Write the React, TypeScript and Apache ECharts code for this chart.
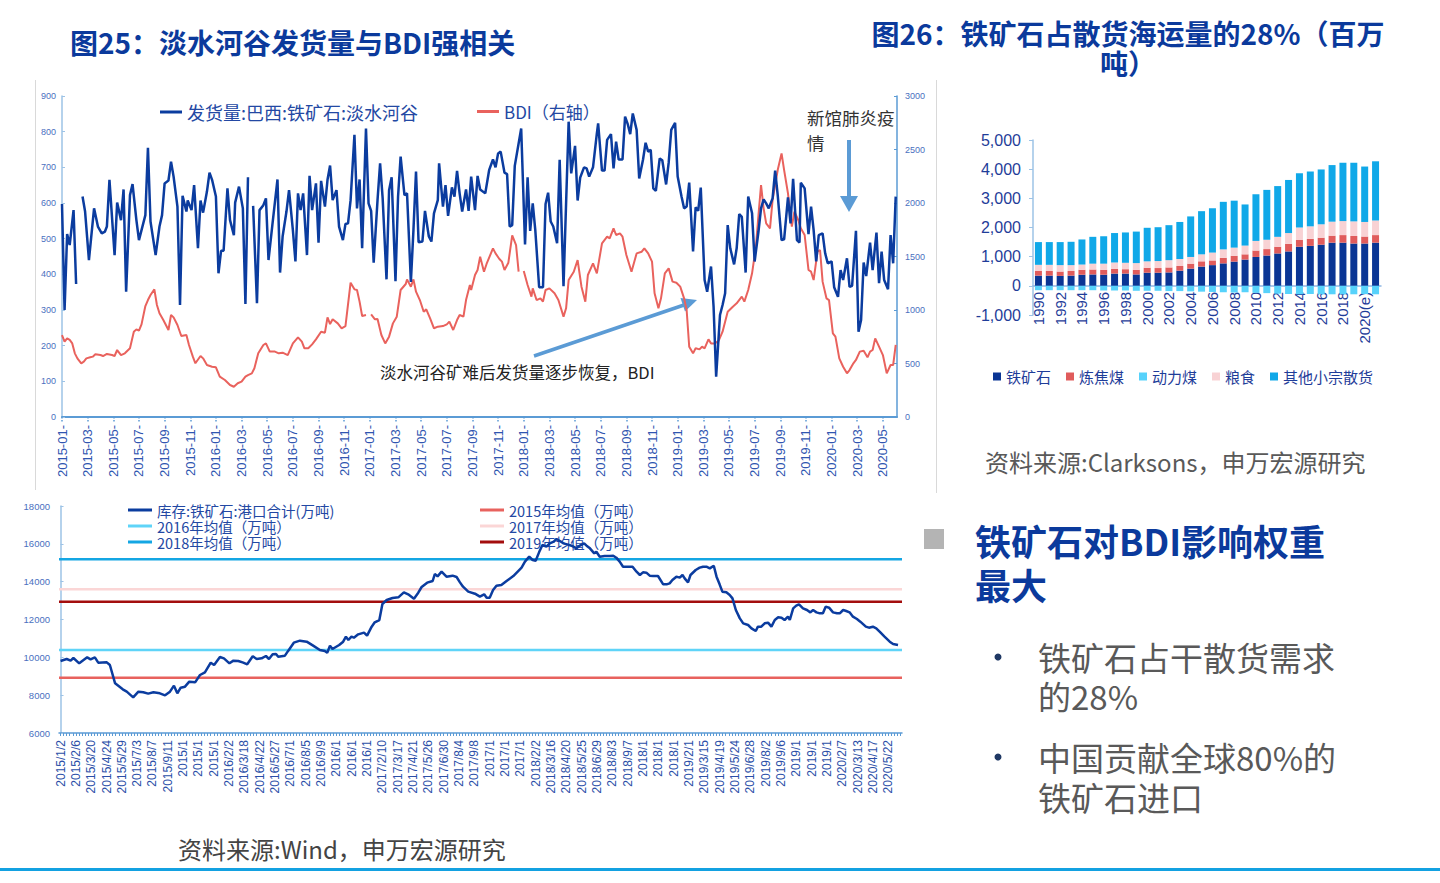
import { useEffect, useRef } from 'react';
import * as echarts from 'echarts';

const CJK = '"Noto Sans CJK SC", "Noto Sans", sans-serif';
const NUM = '"Liberation Sans", Arial, "Noto Sans CJK SC", sans-serif';

// ---------- 图25 top: Vale shipments (left axis) & BDI (right axis) ----------
// x = months since Jan 2015; null breaks the line
const shipments: [number, number | null][] = [
  [0.0, 597], [0.2, 300], [0.4, 513], [0.6, 482], [0.9, 580], [1.1, 373], [1.3, null],
  [1.6, 618], [1.8, 576], [2.1, 440], [2.5, 585], [2.8, 534], [3.1, 515], [3.35, 520], [3.5, 534], [3.7, 665],
  [4.1, 454], [4.3, 601], [4.6, 552], [4.8, 638], [5.0, 351], [5.3, 622], [5.5, 653], [5.8, 552], [6.0, 496],
  [6.5, 566], [6.7, 755], [6.9, 548], [7.3, 454], [7.6, 534], [7.8, 566], [8.0, 655], [8.3, 663], [8.5, 716],
  [8.7, 674], [9.0, 590], [9.2, 314], [9.4, 620], [9.7, 576], [9.8, 607], [10.1, 580], [10.3, 650], [10.6, 473],
  [10.8, 607], [11.0, 573], [11.3, 632], [11.5, 685], [11.7, 665], [12.0, 618], [12.2, 403], [12.4, 466],
  [12.6, 466], [12.9, 641], [13.1, 552], [13.4, 510], [13.5, 601], [13.8, 646], [14.1, 585], [14.3, 317],
  [14.5, 672], [14.7, null],
  [14.9, 592], [15.2, 319], [15.4, 580], [15.7, 594], [15.9, 613], [16.1, 440], [16.4, 538], [16.8, 666],
  [17.0, 405], [17.2, 506], [17.5, 576], [17.7, 636], [18.0, 524], [18.2, 436], [18.4, 627], [18.6, 580],
  [18.8, 627], [19.1, 454], [19.3, 676], [19.5, 580], [19.8, 655], [20.0, 489], [20.2, 662], [20.5, 590],
  [20.7, 665], [20.9, 705], [21.1, 608], [21.4, 636], [21.6, 534], [21.9, 496], [22.1, 541], [22.3, 543],
  [22.5, 608], [22.8, 791], [23.0, 585], [23.2, 666], [23.4, 473], [23.7, 809], [23.9, 599], [24.1, 578],
  [24.3, 433], [24.6, 608], [24.8, 711], [25.0, 613], [25.3, 386], [25.5, 636], [25.7, 672], [26.0, 381],
  [26.2, 618], [26.4, 730], [26.7, 622], [26.9, 627], [27.2, 379], [27.4, 524], [27.6, 688], [27.8, 490],
  [28.1, 492], [28.3, 578], [28.6, 506], [28.8, 492], [29.0, 571], [29.3, 608], [29.4, 711], [29.7, 590],
  [29.9, 650], [30.1, 564], [30.4, 644], [30.6, 618], [30.8, 690], [31.0, 627], [31.2, 576], [31.5, 638],
  [31.7, 578], [31.9, 674], [32.2, 580], [32.4, 676], [32.6, 638], [33.0, 627], [33.3, 692], [33.6, 722],
  [33.8, 700], [34.0, 739], [34.2, 744], [34.5, 685], [34.7, 681], [34.9, 534], [35.1, 538], [35.3, 704],
  [35.8, 809], [36.1, 484], [36.3, 672], [36.5, 522], [36.7, 599], [36.9, 524], [37.2, 364], [37.5, 364],
  [37.7, 597], [37.9, 629], [38.1, 548], [38.3, 534], [38.6, 487], [38.8, 721], [39.1, 367], [39.5, 828],
  [39.7, 683], [40.0, 760], [40.2, 607], [40.4, 671], [40.7, 700], [40.9, 697], [41.1, 674], [41.4, 700],
  [41.7, 795], [41.8, 823], [42.1, 691], [42.3, 691], [42.5, 777], [42.8, 793], [43.0, 697], [43.2, 772],
  [43.4, 722], [43.7, 722], [43.9, 842], [44.1, 822], [44.3, 793], [44.5, 851], [44.8, 805], [45.0, 669],
  [45.3, 722], [45.5, 769], [45.7, 744], [45.9, 749], [46.1, 641], [46.3, 634], [46.6, 725], [46.8, 720],
  [47.1, 652], [47.3, 713], [47.5, 805], [47.8, 825], [48.0, 674], [48.3, 618], [48.5, 585], [48.7, 590],
  [48.9, 657], [49.2, 464], [49.4, 588], [49.6, 578], [49.8, 643], [50.1, 384], [50.3, 351], [50.6, 422],
  [50.8, 309], [51.0, 113], [51.3, 286], [51.5, 314], [51.7, 347], [51.9, 538], [52.1, 473], [52.4, 428],
  [52.6, 473], [52.8, 569], [53.0, 561], [53.3, 405], [53.5, 618], [53.8, 571], [54.0, 436], [54.3, 520],
  [54.5, 585], [54.7, 610], [54.9, 599], [55.1, 585], [55.4, 613], [55.6, 691], [55.8, 622], [56.1, 496],
  [56.3, 498], [56.6, 616], [56.8, 543], [57.0, 668], [57.3, 496], [57.5, 489], [57.6, 657], [57.9, 641],
  [58.2, 513], [58.4, 590], [58.6, 524], [58.8, 436], [59.0, 510], [59.3, 515], [59.5, 459], [59.7, 431],
  [60.0, 436], [60.2, 364], [60.5, 337], [60.7, 412], [60.9, 384], [61.2, 445], [61.4, 365], [61.6, 368],
  [61.9, 522], [62.1, 239], [62.3, 272], [62.5, 433], [62.7, 395], [63.0, 489], [63.2, 412], [63.5, 517],
  [63.7, 375], [63.9, 464], [64.1, 384], [64.4, 358], [64.6, 510], [64.8, 431], [65.0, 618],
];

const bdi: [number, number | null][] = [
  [0.0, 766], [0.2, 704], [0.4, 735], [0.6, 720], [0.8, 688], [1.0, 595], [1.2, 548], [1.5, 502], [1.7, 517],
  [1.9, 548], [2.2, 558], [2.4, 564], [2.6, 586], [3.0, 579], [3.2, 570], [3.5, 589], [3.9, 579], [4.1, 570],
  [4.3, 626], [4.6, 579], [4.9, 595], [5.3, 642], [5.6, 797], [5.8, 819], [6.0, 807], [6.2, 866], [6.5, 1037],
  [6.7, 1093], [6.9, 1140], [7.2, 1193], [7.4, 1047], [7.6, 969], [7.9, 906], [8.3, 813], [8.5, 953], [8.7, 931],
  [9.0, 860], [9.3, 757], [9.7, 766], [9.9, 673], [10.2, 564], [10.4, 502], [10.8, 570], [11.0, 548], [11.3, 486],
  [11.7, 470], [12.0, 464], [12.3, 377], [12.7, 346], [13.1, 299], [13.4, 283], [13.7, 315], [14.0, 330],
  [14.3, 377], [14.5, 392], [14.8, 408], [15.0, 455], [15.3, 595], [15.7, 673], [15.9, 688], [16.2, 611],
  [16.6, 611], [16.9, 595], [17.2, 601], [17.6, 579], [18.0, 688], [18.4, 744], [18.7, 704], [18.9, 642],
  [19.2, 642], [19.5, 679], [19.8, 726], [20.2, 797], [20.5, 788], [20.7, 931], [20.9, 869], [21.1, 913],
  [21.5, 875], [21.8, 829], [22.1, 850], [22.5, 1255], [22.8, 1193], [23.0, 1187], [23.2, 1078], [23.4, 944],
  [23.7, 953], [23.9, null],
  [24.1, 959], [24.4, 913], [24.6, 916], [24.9, 766], [25.2, 688], [25.5, 751], [25.8, 875], [26.1, 938],
  [26.4, 1187], [26.8, 1243], [26.9, 1286], [27.2, 1218], [27.4, 1286], [27.6, 1171], [27.9, 1093], [28.2, 984],
  [28.4, 1006], [28.7, 922], [29.0, 829], [29.3, 844], [29.7, 850], [30.0, 866], [30.2, 891], [30.5, 813],
  [30.8, 906], [31.0, 953], [31.3, 938], [31.5, 1093], [31.8, 1234], [31.9, 1187], [32.2, 1327], [32.4, 1374],
  [32.6, 1498], [32.9, 1358], [33.1, 1430], [33.6, 1576], [33.8, 1529], [34.1, 1477], [34.3, 1452], [34.5, 1374],
  [34.8, 1442], [35.1, 1698], [35.4, 1607], [35.6, 1358], [35.8, null],
  [36.0, 1364], [36.3, 1234], [36.6, 1125], [36.7, 1202], [37.0, 1093], [37.3, 1109], [37.5, 1078], [37.7, 1187],
  [38.0, 1202], [38.4, 1156], [38.7, 1093], [38.9, 1016], [39.1, 938], [39.3, 1016], [39.5, 1280], [39.9, 1358],
  [40.2, 1467], [40.5, 1218], [40.8, 1078], [41.0, 1327], [41.4, 1436], [41.7, 1343], [42.1, 1623], [42.5, 1685],
  [42.7, 1669], [43.0, 1763], [43.2, 1701], [43.5, 1716], [43.7, 1685], [44.0, 1514], [44.4, 1358], [44.8, 1529],
  [45.2, 1545], [45.4, 1576], [45.7, 1529], [46.0, 1452], [46.2, 1156], [46.5, 1016], [46.7, 1109], [47.0, 1343],
  [47.3, 1389], [47.6, 1265], [47.9, 1255], [48.2, 1218], [48.5, 1109], [48.7, 1000], [48.9, 657], [49.2, 595],
  [49.4, 642], [49.7, 632], [49.9, 657], [50.1, 642], [50.4, 726], [50.6, 688], [50.9, 688], [51.2, 713],
  [51.5, 797], [51.9, 984], [52.3, 1031], [52.6, 1062], [53.0, 1125], [53.2, 1078], [53.5, 1187], [53.8, 1343],
  [54.1, 1592], [54.3, 1888], [54.5, 2168], [54.7, 1950], [54.9, 1810], [55.2, 1763], [55.4, 2028], [55.8, 2308],
  [56.1, 2464], [56.3, 2308], [56.6, 2090], [56.9, 1779], [57.1, 1919], [57.4, 1841], [57.6, 1763], [57.9, 1701],
  [58.2, 1374], [58.4, 1358], [58.6, 1280], [58.9, 1545], [59.1, 1561], [59.3, 1265], [59.6, 1109], [59.8, 1093],
  [60.1, 782], [60.3, 751], [60.6, 548], [60.9, 470], [61.2, 408], [61.4, 439], [61.7, 502], [61.9, 533],
  [62.2, 611], [62.5, 620], [62.8, 558], [63.0, 611], [63.2, 626], [63.4, 735], [63.7, 657], [64.0, 579],
  [64.3, 408], [64.6, 486], [64.8, 486], [65.0, 673],
];

const shipmentMonthLabels = [
  '2015-01-', '2015-03-', '2015-05-', '2015-07-', '2015-09-', '2015-11-',
  '2016-01-', '2016-03-', '2016-05-', '2016-07-', '2016-09-', '2016-11-',
  '2017-01-', '2017-03-', '2017-05-', '2017-07-', '2017-09-', '2017-11-',
  '2018-01-', '2018-03-', '2018-05-', '2018-07-', '2018-09-', '2018-11-',
  '2019-01-', '2019-03-', '2019-05-', '2019-07-', '2019-09-', '2019-11-',
  '2020-01-', '2020-03-', '2020-05-',
];

// ---------- 图25 bottom: port iron-ore inventory (万吨), x = week index ----------
const portStock: [number, number][] = [
  [0, 9806], [2.0, 9912], [3.3, 9824], [4.2, 9965], [6.1, 9683], [8.7, 10000], [9.8, 9894], [11.2, 10000],
  [12.3, 9718], [15.1, 9735], [16.1, 9594], [17.8, 8625], [20.3, 8308], [21.6, 8185], [23.7, 7885], [25.4, 8185],
  [27.0, 8150], [28.6, 8080], [30.3, 8150], [32.4, 8097], [34.1, 7990], [35.7, 8185], [37.0, 8502], [38.1, 8097],
  [39.2, 8396], [40.6, 8449], [42.0, 8714], [43.9, 8678], [45.5, 9066], [47.1, 9207], [49.0, 9718], [50.1, 9594],
  [52.0, 10017], [53.3, 9947], [55.1, 9683], [56.4, 9824], [58.0, 9806], [59.6, 9718], [60.9, 9630], [62.7, 10053],
  [64.0, 9912], [65.6, 9947], [67.0, 10070], [68.0, 9912], [69.2, 10158], [70.3, 10176], [71.0, 10035],
  [73.2, 10088], [74.3, 10352], [76.1, 10775], [78.1, 10881], [80.3, 10828], [82.4, 10617], [84.6, 10387],
  [86.2, 10335], [87.0, 10246], [87.9, 10617], [88.7, 10440], [90.9, 10652], [92.2, 10828], [93.1, 11092],
  [93.9, 10916], [94.9, 11092], [95.7, 11039], [97.1, 11216], [99.0, 11304], [100.0, 11145], [101.5, 11621],
  [102.5, 11850], [104.0, 11973], [105.0, 12819], [106.4, 13030], [108.3, 13136], [110.2, 13171], [112.0, 13436],
  [113.4, 13330], [115.3, 13101], [116.7, 13418], [117.8, 13718], [119.6, 13947], [121.4, 14035], [122.1, 14405],
  [123.0, 14281], [124.3, 14528], [125.9, 14264], [127.9, 14317], [129.2, 14246], [130.3, 13964], [131.3, 13735],
  [133.0, 13471], [135.2, 13365], [136.8, 13207], [138.2, 13330], [139.0, 13154], [140.0, 13154], [141.1, 13559],
  [142.2, 13788], [143.8, 13823], [145.5, 14035], [147.7, 14299], [149.3, 14563], [150.4, 14740], [151.5, 15057],
  [152.9, 15321], [154.0, 15145], [155.0, 15110], [156.1, 15550], [157.2, 15938], [158.5, 15850], [159.6, 16026],
  [160.9, 16114], [161.8, 16255], [162.9, 16149], [164.0, 16026], [165.3, 15973], [166.7, 15902], [168.3, 15761],
  [169.7, 15938], [170.8, 16026], [171.6, 15902], [172.7, 15761], [174.1, 15497], [174.8, 15585], [175.9, 15321],
  [177.5, 15356], [179.2, 15356], [180.3, 15374], [181.3, 15268], [182.4, 15057], [183.5, 14792], [185.2, 14792],
  [186.6, 14792], [187.9, 14528], [189.0, 14352], [190.0, 14493], [191.1, 14475], [192.2, 14317], [193.3, 14299],
  [194.9, 14299], [196.6, 13859], [197.7, 13859], [198.7, 13911], [199.6, 14088], [200.9, 14264], [202.0, 14211],
  [202.9, 14352], [203.6, 14176], [204.7, 13964], [205.5, 14352], [207.2, 14616], [208.5, 14740], [209.6, 14792],
  [210.7, 14792], [211.8, 14704], [213.1, 14845], [214.0, 14264], [215.0, 13859], [215.9, 13471], [217.2, 13436],
  [218.3, 13295], [219.2, 13118], [220.3, 12502], [221.6, 12061], [222.7, 11797], [224.3, 11709], [225.4, 11533],
  [226.8, 11392], [227.5, 11621], [228.6, 11621], [229.7, 11797], [230.8, 11832], [231.9, 11621], [233.0, 11973],
  [234.1, 12114], [235.2, 12097], [236.2, 11973], [237.3, 12149], [237.9, 11973], [239.0, 12590], [240.0, 12731],
  [240.9, 12801], [242.2, 12590], [243.5, 12502], [244.6, 12378], [245.5, 12502], [246.6, 12378], [247.7, 12326],
  [248.7, 12326], [249.6, 12678], [250.7, 12625], [252.0, 12378], [253.3, 12326], [254.2, 12326], [255.3, 12502],
  [256.3, 12449], [257.4, 12378], [258.5, 12149], [259.8, 12026], [260.9, 11885], [262.7, 11621], [263.7, 11568],
  [265.0, 11621], [266.1, 11533], [267.2, 11356], [268.8, 11092], [270.5, 10828], [271.6, 10705], [273.2, 10652],
];

const yearAverageNames = ['2015年均值（万吨）', '2016年均值（万吨）', '2017年均值（万吨）', '2018年均值（万吨）', '2019年均值（万吨）'];
const yearAverageValues = [8920, 10390, 13600, 15180, 12940];
const yearAverageColors = ['#e8625e', '#5fd4f8', '#fbd6d6', '#14a6e3', '#a30d0d'];

const stockWeekLabels = [
  '2015/1/2', '2015/2/6', '2015/3/20', '2015/4/24', '2015/5/29', '2015/7/3', '2015/8/7', '2015/9/11', '2015/1', '2015/1', '2015/1',
  '2016/2/2', '2016/3/18', '2016/4/22', '2016/5/27', '2016/7/1', '2016/8/5', '2016/9/9', '2016/1', '2016/1', '2016/1',
  '2017/2/10', '2017/3/17', '2017/4/21', '2017/5/26', '2017/6/30', '2017/8/4', '2017/9/8', '2017/1', '2017/1', '2017/1',
  '2018/2/2', '2018/3/16', '2018/4/20', '2018/5/25', '2018/6/29', '2018/8/3', '2018/9/7', '2018/1', '2018/1', '2018/1',
  '2019/2/1', '2019/3/15', '2019/4/19', '2019/5/24', '2019/6/28', '2019/8/2', '2019/9/6', '2019/1', '2019/1', '2019/1',
  '2020/2/7', '2020/3/13', '2020/4/17', '2020/5/22',
];

// ---------- 图26: seaborne dry bulk trade by cargo (百万吨) ----------
const bulkYears = [
  '1990', '1991', '1992', '1993', '1994', '1995', '1996', '1997', '1998', '1999',
  '2000', '2001', '2002', '2003', '2004', '2005', '2006', '2007', '2008', '2009',
  '2010', '2011', '2012', '2013', '2014', '2015', '2016', '2017', '2018', '2019', '2020(e)', '2021(e)',
];
const ironOre = [350, 350, 340, 350, 380, 390, 380, 420, 420, 390, 450, 450, 460, 520, 590, 660, 710, 770, 830, 900, 990, 1040, 1110, 1180, 1340, 1370, 1410, 1480, 1480, 1450, 1450, 1480];
const cokingCoal = [160, 160, 150, 160, 170, 170, 170, 160, 150, 160, 170, 160, 170, 160, 170, 180, 160, 190, 200, 180, 220, 220, 230, 260, 240, 240, 240, 240, 260, 260, 240, 260];
const thermalCoal = [-150, -150, -150, -150, -150, -150, -160, -160, -160, -170, -170, -170, -180, -180, -190, -200, -210, -220, -230, -220, -240, -250, -270, -280, -290, -280, -290, -290, -290, -290, -280, -290];
const grain = [210, 210, 220, 200, 180, 200, 210, 220, 220, 230, 220, 240, 250, 240, 230, 240, 270, 290, 280, 300, 330, 320, 340, 370, 420, 430, 460, 480, 480, 500, 500, 500];
const minorBulks = [780, 780, 790, 800, 860, 920, 940, 1010, 1040, 1080, 1150, 1160, 1200, 1270, 1390, 1480, 1520, 1630, 1610, 1410, 1600, 1710, 1740, 1820, 1860, 1880, 1880, 1940, 2000, 2010, 1900, 2030];
const bulkNames = ['铁矿石', '炼焦煤', '动力煤', '粮食', '其他小宗散货'];
const bulkColors = ['#0a3594', '#e05c5c', '#57d2fb', '#f8d2d4', '#10a8e8'];

const WEEK_MIN = -0.5;
const WEEK_MAX = 274.5;

const BULK_MIN = -1000;
const BULK_MAX = 5000;
const BULK_GRID_HEIGHT = 175;

const withGaps = (d: [number, number | null][]) => d.map(([x, y]) => [x, y === null ? '-' : y]);
const plain = (v: number) => String(v);

const axisBlue = '#5b9bd5';
const tickText = '#4a6fc0';
const legendText = '#2348a3';

function buildOption(): any {
  const bulkSeries = [ironOre, cokingCoal, thermalCoal, grain, minorBulks].map((vals, i) => ({
    name: bulkNames[i],
    type: 'bar',
    xAxisIndex: 2,
    yAxisIndex: 3,
    stack: 'bulk',
    barWidth: 7,
    color: bulkColors[i],
    itemStyle: { color: bulkColors[i] },
    data: vals,
  }));

  const averageSeries = yearAverageNames.map((name, i) => ({
    name,
    type: 'line',
    xAxisIndex: 1,
    yAxisIndex: 2,
    showSymbol: false,
    symbol: 'none',
    z: 2,
    color: yearAverageColors[i],
    lineStyle: { color: yearAverageColors[i], width: 2.5 },
    data: [[WEEK_MIN, yearAverageValues[i]], [WEEK_MAX, yearAverageValues[i]]],
  }));

  const text = (t: string, x: number, y: number, size: number, fill: string, extra: any = {}) => ({
    type: 'text',
    x,
    y,
    silent: true,
    style: {
      text: t,
      fill,
      fontSize: size,
      fontFamily: CJK,
      textAlign: 'left',
      textVerticalAlign: 'middle',
      ...extra,
    },
  });

  // category axis of the bar chart sits on the zero line (labels included)
  const zeroOffset = -BULK_GRID_HEIGHT * (0 - BULK_MIN) / (BULK_MAX - BULK_MIN);

  return {
    animation: false,
    backgroundColor: '#ffffff',
    grid: [
      { left: 62, top: 96, width: 835, height: 321, outerBoundsMode: 'none' },
      { left: 59, top: 506, width: 843, height: 227, outerBoundsMode: 'none' },
      { left: 1033, top: 140, width: 348, height: BULK_GRID_HEIGHT, outerBoundsMode: 'none' },
    ],
    xAxis: [
      {
        type: 'value',
        gridIndex: 0,
        min: 0,
        max: 65.1,
        splitLine: { show: false },
        axisLine: { show: true, lineStyle: { color: axisBlue, width: 2 } },
        axisTick: {
          show: true,
          length: 6,
          customValues: shipmentMonthLabels.map((_, i) => i * 2),
          lineStyle: { color: axisBlue, type: 'dotted', width: 1.5 },
        },
        axisLabel: {
          customValues: shipmentMonthLabels.map((_, i) => i * 2),
          formatter: (v: number) => shipmentMonthLabels[Math.round(v / 2)] ?? '',
          rotate: 90,
          margin: 8,
          fontSize: 13,
          color: '#2f55b0',
          fontFamily: NUM,
        },
      },
      {
        type: 'value',
        gridIndex: 1,
        min: WEEK_MIN,
        max: WEEK_MAX,
        splitLine: { show: false },
        axisLine: { show: true, lineStyle: { color: axisBlue, width: 1.5 } },
        axisTick: {
          show: true,
          length: 3,
          customValues: Array.from({ length: 275 }, (_, i) => i),
          lineStyle: { color: axisBlue, width: 1 },
        },
        axisLabel: {
          customValues: stockWeekLabels.map((_, i) => i * 5),
          formatter: (v: number) => stockWeekLabels[Math.round(v / 5)] ?? '',
          rotate: 90,
          margin: 7,
          fontSize: 12,
          color: '#2b4fa8',
          fontFamily: NUM,
        },
      },
      {
        type: 'category',
        gridIndex: 2,
        data: bulkYears,
        position: 'bottom',
        offset: zeroOffset,
        axisLine: { show: true, onZero: false, lineStyle: { color: '#8fb6e4', width: 1.5 } },
        axisTick: { show: false },
        axisLabel: { interval: 1, rotate: 90, margin: 6, fontSize: 15, color: '#1f3d99', fontFamily: NUM },
      },
    ],
    yAxis: [
      {
        type: 'value',
        gridIndex: 0,
        min: 0,
        max: 900,
        interval: 100,
        splitLine: { show: false },
        axisLine: { show: true, lineStyle: { color: '#9dc3e6', width: 1.5 } },
        axisTick: { show: true, inside: true, length: 3, lineStyle: { color: '#9dc3e6' } },
        axisLabel: { fontSize: 9, color: tickText, margin: 6, fontFamily: NUM, formatter: plain },
      },
      {
        type: 'value',
        gridIndex: 0,
        position: 'right',
        min: 0,
        max: 3000,
        interval: 500,
        splitLine: { show: false },
        axisLine: { show: true, lineStyle: { color: axisBlue, width: 1.5 } },
        axisTick: { show: true, inside: true, length: 3, lineStyle: { color: axisBlue } },
        axisLabel: { fontSize: 9, color: tickText, margin: 8, fontFamily: NUM, formatter: plain },
      },
      {
        type: 'value',
        gridIndex: 1,
        min: 6000,
        max: 18000,
        interval: 2000,
        splitLine: { show: false },
        axisLine: { show: true, lineStyle: { color: '#9dc3e6', width: 1.5 } },
        axisTick: { show: true, inside: true, length: 3, lineStyle: { color: '#9dc3e6' } },
        axisLabel: { fontSize: 9.5, color: tickText, margin: 9, fontFamily: NUM, formatter: plain },
      },
      {
        type: 'value',
        gridIndex: 2,
        min: BULK_MIN,
        max: BULK_MAX,
        interval: 1000,
        splitLine: { show: false },
        axisLine: { show: true, lineStyle: { color: '#9dc3e6', width: 1.5 } },
        axisTick: { show: true, length: 4, lineStyle: { color: '#9dc3e6' } },
        axisLabel: {
          fontSize: 16,
          color: '#1f3d99',
          margin: 12,
          fontFamily: NUM,
          formatter: (v: number) => v.toLocaleString('en-US'),
        },
      },
    ],
    legend: [
      {
        data: ['发货量:巴西:铁矿石:淡水河谷'],
        left: 160,
        top: 103,
        padding: 0,
        icon: 'rect',
        itemWidth: 22,
        itemHeight: 3,
        selectedMode: false,
        textStyle: { fontSize: 18, color: legendText, fontFamily: CJK },
      },
      {
        data: ['BDI（右轴）'],
        left: 477,
        top: 103,
        padding: 0,
        icon: 'rect',
        itemWidth: 22,
        itemHeight: 3,
        selectedMode: false,
        textStyle: { fontSize: 17, color: legendText, fontFamily: CJK },
      },
      {
        data: ['库存:铁矿石:港口合计(万吨)', '2016年均值（万吨）', '2018年均值（万吨）'],
        orient: 'vertical',
        left: 128,
        top: 502,
        padding: 0,
        itemGap: 0,
        icon: 'rect',
        itemWidth: 24,
        itemHeight: 3,
        selectedMode: false,
        textStyle: { fontSize: 14.5, lineHeight: 16, color: legendText, fontFamily: CJK },
      },
      {
        data: ['2015年均值（万吨）', '2017年均值（万吨）', '2019年均值（万吨）'],
        orient: 'vertical',
        left: 480,
        top: 502,
        padding: 0,
        itemGap: 0,
        icon: 'rect',
        itemWidth: 24,
        itemHeight: 3,
        selectedMode: false,
        textStyle: { fontSize: 14.5, lineHeight: 16, color: legendText, fontFamily: CJK },
      },
      {
        data: bulkNames,
        left: 993,
        top: 369,
        padding: 0,
        icon: 'rect',
        itemWidth: 8,
        itemHeight: 8,
        itemGap: 15,
        selectedMode: false,
        textStyle: { fontSize: 15, color: '#1f3d99', fontFamily: CJK },
      },
    ],
    series: [
      {
        name: '发货量:巴西:铁矿石:淡水河谷',
        type: 'line',
        xAxisIndex: 0,
        yAxisIndex: 0,
        showSymbol: false,
        symbol: 'none',
        z: 4,
        color: '#0b3c9f',
        lineStyle: { color: '#0b3c9f', width: 2.5 },
        data: withGaps(shipments),
      },
      {
        name: 'BDI（右轴）',
        type: 'line',
        xAxisIndex: 0,
        yAxisIndex: 1,
        showSymbol: false,
        symbol: 'none',
        z: 3,
        color: '#e9625d',
        lineStyle: { color: '#e9625d', width: 2 },
        data: withGaps(bdi),
      },
      ...averageSeries,
      {
        name: '库存:铁矿石:港口合计(万吨)',
        type: 'line',
        xAxisIndex: 1,
        yAxisIndex: 2,
        showSymbol: false,
        symbol: 'none',
        z: 5,
        color: '#0b3c9f',
        lineStyle: { color: '#0b3c9f', width: 2.5 },
        data: portStock,
      },
      ...bulkSeries,
    ],
    graphic: {
      elements: [
        // panel frames
        { type: 'line', silent: true, shape: { x1: 35.5, y1: 80, x2: 35.5, y2: 490 }, style: { stroke: '#d9d9d9', lineWidth: 1 } },
        { type: 'line', silent: true, shape: { x1: 936.5, y1: 80, x2: 936.5, y2: 493 }, style: { stroke: '#d9d9d9', lineWidth: 1 } },
        // headings
        text('图25：淡水河谷发货量与BDI强相关', 70, 42, 28, '#0b3a9c', { fontWeight: 'bold' }),
        text('图26：铁矿石占散货海运量的28%（百万\n吨）', 1128, 48, 28, '#0b3a9c', {
          fontWeight: 'bold',
          textAlign: 'center',
          lineHeight: 30,
        }),
        // annotations on the shipments chart
        text('新馆肺炎疫\n情', 807, 129.5, 17.5, '#333333', { lineHeight: 25 }),
        { type: 'rect', silent: true, shape: { x: 847, y: 140, width: 4, height: 58 }, style: { fill: '#5b9bd5' } },
        { type: 'polygon', silent: true, shape: { points: [[840, 196], [858, 196], [849, 212]] }, style: { fill: '#5b9bd5' } },
        text('淡水河谷矿难后发货量逐步恢复，BDI', 380, 372, 16.5, '#222222'),
        { type: 'line', silent: true, shape: { x1: 534, y1: 356, x2: 684, y2: 305 }, style: { stroke: '#5b9bd5', lineWidth: 3.5 } },
        { type: 'polygon', silent: true, shape: { points: [[697, 300], [685, 311.5], [680.5, 298]] }, style: { fill: '#5b9bd5' } },
        // sources
        text('资料来源:Clarksons，申万宏源研究', 985, 461, 24, '#595959'),
        text('资料来源:Wind，申万宏源研究', 178, 848, 24, '#444444'),
        // side notes
        { type: 'rect', silent: true, shape: { x: 924, y: 529, width: 20, height: 20 }, style: { fill: '#b4b4b4' } },
        text('铁矿石对BDI影响权重\n最大', 975, 562, 36, '#0b3a9c', { fontWeight: 'bold', lineHeight: 44 }),
        { type: 'circle', silent: true, shape: { cx: 998, cy: 657, r: 3.5 }, style: { fill: '#1f3864' } },
        text('铁矿石占干散货需求\n的28%', 1038, 676.5, 33, '#595959', { lineHeight: 39 }),
        { type: 'circle', silent: true, shape: { cx: 998, cy: 757, r: 3.5 }, style: { fill: '#1f3864' } },
        text('中国贡献全球80%的\n铁矿石进口', 1038, 777, 33, '#595959', { lineHeight: 40 }),
        // footer rule
        { type: 'rect', silent: true, shape: { x: 0, y: 868, width: 1440, height: 3 }, style: { fill: '#13a1e1' } },
      ],
    },
  };
}

export default function App() {
  const ref = useRef<HTMLDivElement>(null);
  useEffect(() => {
    if (!ref.current) return;
    const chart = echarts.init(ref.current, null, { renderer: 'svg' });
    chart.setOption(buildOption());
    return () => chart.dispose();
  }, []);
  return (
    <div
      ref={ref}
      style={{ position: 'fixed', left: 0, top: 0, width: 1440, height: 883, background: '#ffffff' }}
    />
  );
}
